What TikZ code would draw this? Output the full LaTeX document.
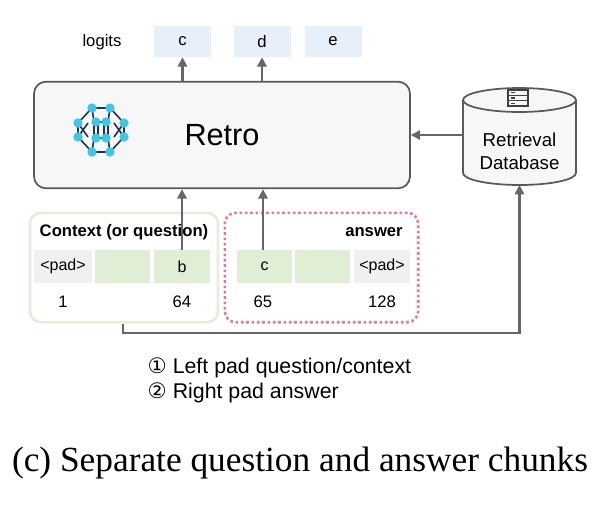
\documentclass[tikz,border=0pt]{standalone}
\usepackage{fontspec}
\setmainfont{Liberation Sans}
\newfontfamily\capfont{Liberation Serif}
\newfontfamily\symfont{DejaVu Sans}
\usetikzlibrary{arrows.meta}
\definecolor{logitblue}{HTML}{E6EFFA}
\definecolor{cellgreen}{HTML}{E1EED6}
\definecolor{cellgray}{HTML}{F0F0F0}
\definecolor{boxgreen}{HTML}{E3EFD8}
\definecolor{ansPink}{HTML}{E8769E}
\definecolor{iconcyan}{HTML}{3EC6E6}
\definecolor{iconnavy}{HTML}{1E3550}
\tikzstyle{logit}=[fill=logitblue,minimum width=42.75pt,minimum height=23.25pt,inner sep=0,font=\fontsize{12.5}{14}\selectfont]
\tikzstyle{cell}=[fill=cellgreen,minimum width=41.25pt,minimum height=24.75pt,inner sep=0,font=\fontsize{12}{14}\selectfont]
\tikzstyle{padcell}=[cell,fill=cellgray]
\tikzstyle{num}=[font=\fontsize{12.5}{14}\selectfont]
\tikzstyle{conn}=[draw=black!60,line width=1.6pt,-{Triangle[length=7pt,width=7pt]}]
\tikzstyle{dot}=[circle,fill=iconcyan,inner sep=0,minimum size=7pt]
\begin{document}
\begin{tikzpicture}[x=0.75pt,y=-0.75pt]
  \useasboundingbox (0,0) rectangle (604,504);
  % logits
  \node[font=\fontsize{12.5}{14}\selectfont] (lg) at (102,42) {logits};
  \node[logit] (lc) at (182.5,41.5) {c};
  \node[logit] (ld) at (262,41.5) {d};
  \node[logit] (le) at (333,41.5) {e};
  % model
  \node[draw=black!65,line width=1.3pt,rounded corners=9pt,fill=black!3,minimum width=282pt,minimum height=80pt,inner sep=0] (retro) at (222,135) {};
  \node[font=\fontsize{23}{26}\selectfont] (rtxt) at (222,135) {Retro};
  % icon
  \begin{scope}[shift={(101,130)}]
    \draw[iconnavy,line width=1.2pt] (-9,-22) -- (9,-22) (-9,22) -- (9,22)
      (-23,-7) -- (-23,7) (23,-7) -- (23,7)
      (-9,-22) -- (-23,-7) (9,-22) -- (23,-7) (-9,22) -- (-23,7) (9,22) -- (23,7)
      (-7,-8) -- (7,-8) (-7,8) -- (7,8) (-7,-8) -- (-7,8) (7,-8) -- (7,8)
      (-9,-22) -- (-7,-8) (9,-22) -- (7,-8) (-9,22) -- (-7,8) (9,22) -- (7,8)
      (-23,-7) -- (-13,7) (-23,7) -- (-13,-7) (23,-7) -- (13,7) (23,7) -- (13,-7)
      (-3,-8) -- (-3,8) (3,-8) -- (3,8);
    \foreach \p in {(-9,-22),(9,-22),(-9,22),(9,22),(-23,-7),(-23,7),(23,-7),(23,7),(-5,-8),(5,-8),(-5,8),(5,8)}
      \node[dot] at \p {};
  \end{scope}
  % database
  \begin{scope}[draw=black!65,line width=1.3pt]
    \filldraw[fill=black!3] (463,100) -- (463,173) arc[start angle=180,end angle=0,x radius=56.5,y radius=12] -- (576,100)
      arc[start angle=0,end angle=-180,x radius=56.5,y radius=12] -- cycle;
    \draw (463,100) arc[start angle=180,end angle=0,x radius=56.5,y radius=12];
  \end{scope}
  \coordinate (dbw) at (463,135);
  \coordinate (dbs) at (519.5,185);
  \node[align=center,font=\fontsize{14}{17}\selectfont] (dbtxt) at (519.5,151) {Retrieval\\Database};
  \begin{scope}[shift={(518,98)},black!75,line width=0.8pt]
    \draw (-10,-8) rectangle (10,8) (-10,-2.7) -- (10,-2.7) (-10,2.7) -- (10,2.7);
    \draw (-7,-5.3) -- (-3,-5.3) (-7,0) -- (-3,0) (-7,5.3) -- (-3,5.3);
  \end{scope}
  % input groups
  \node[draw=boxgreen,line width=2pt,rounded corners=8pt,minimum width=141pt,minimum height=82pt] (ctx) at (124,267.5) {};
  \node[draw=ansPink,line width=2pt,dotted,rounded corners=8pt,minimum width=145pt,minimum height=82pt] (ans) at (321.5,267.5) {};
  \node[font=\bfseries\fontsize{12.5}{14}\selectfont] (ctxt) at (124,232) {Context (or question)};
  \node[font=\bfseries\fontsize{12.5}{14}\selectfont] (atxt) at (374,232) {answer};
  \node[padcell,minimum width=43.5pt] (c1) at (63,266.5) {<pad>};
  \node[cell] (c2) at (122.5,266.5) {};
  \node[cell,minimum width=42pt] (c3) at (182,266.5) {b};
  \node[cell] (c4) at (264.5,266.5) {c};
  \node[cell] (c5) at (322.5,266.5) {};
  \node[padcell,minimum width=42pt] (c6) at (382,266.5) {<pad>};
  \node[num] (n1) at (63,302) {1};
  \node[num] (n2) at (182,302) {64};
  \node[num] (n3) at (263,302) {65};
  \node[num] (n4) at (382,302) {128};
  % connectors
  \draw[conn] (c3.north) -- (c3.north |- retro.south);
  \draw[conn] (c4.north -| n3) -- (n3 |- retro.south);
  \draw[conn] (lc |- retro.north) -- (lc.south);
  \draw[conn] (ld |- retro.north) -- (ld.south);
  \draw[conn] (dbw) -- (retro.east |- dbw);
  \coordinate (q0) at (123,333);
  \draw[conn] (q0 |- ctx.south) -- (q0) -- (q0 -| dbs) -- (dbs);
  % legend
  \node[anchor=west,font=\fontsize{16}{18}\selectfont] (l1) at (143,368) {{\symfont ①} Left pad question/context};
  \node[anchor=west,font=\fontsize{16}{18}\selectfont] (l2) at (143,393) {{\symfont ②} Right pad answer};
  \node[font=\capfont\fontsize{26.5}{30}\selectfont] (cap) at (300,463) {(c) Separate question and answer chunks};
\end{tikzpicture}
\end{document}
